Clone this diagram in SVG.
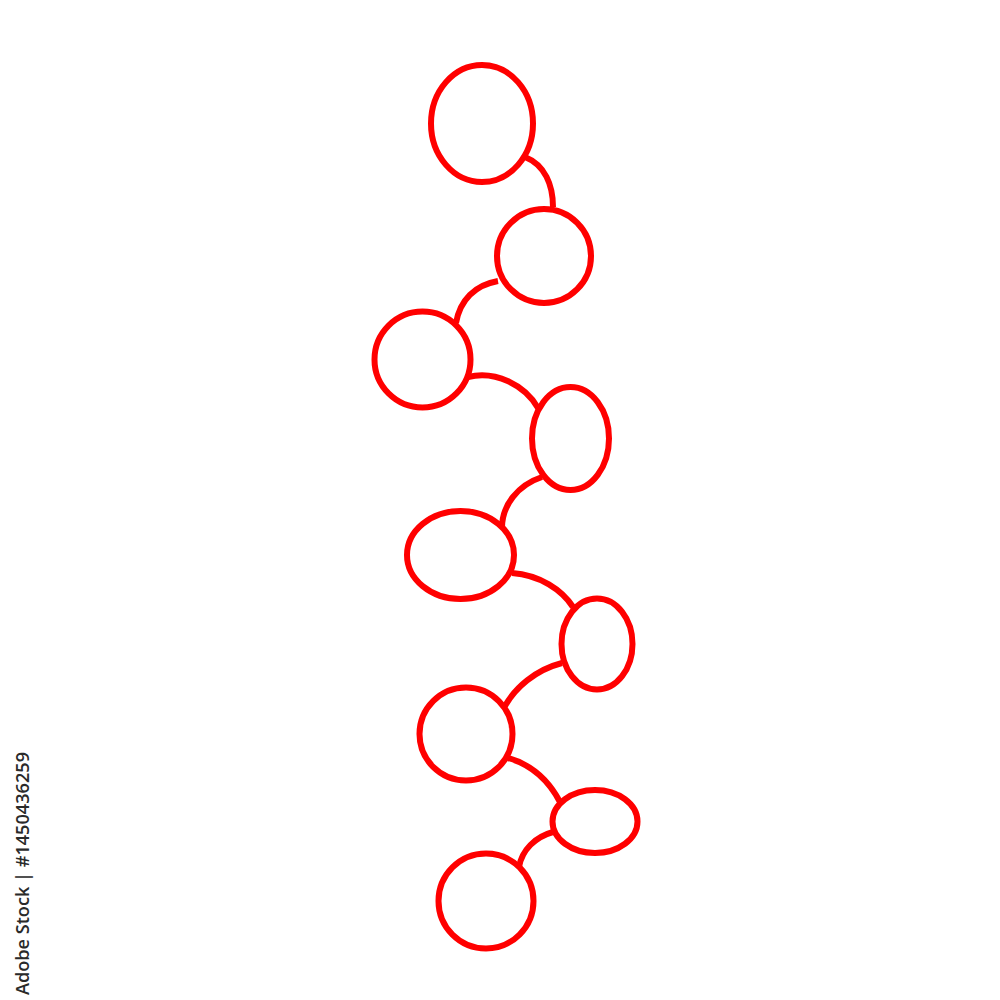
<svg xmlns="http://www.w3.org/2000/svg" width="1000" height="1000" viewBox="0 0 1000 1000">
<style>
.n{fill:none;stroke:#ff0000;stroke-width:6}
.c{fill:none;stroke:#ff0000;stroke-width:6;stroke-linecap:butt}
.wm{font-family:"Open Sans","Noto Sans",sans-serif;font-size:18.5px;font-weight:600;fill:#2a2a2a}
</style>
<rect width="1000" height="1000" fill="#ffffff"/>
<g id="connectors">
<path class="c" d="M525,157 C545,165 553,185 553,207"/>
<path class="c" d="M498,281 C475,285 460,300 456,323"/>
<path class="c" d="M468,377 C495,370 525,385 538,408"/>
<path class="c" d="M542,477 C518,485 502,505 502,528"/>
<path class="c" d="M512,573 C540,575 562,590 573,607"/>
<path class="c" d="M562,663 C535,670 515,688 505,706"/>
<path class="c" d="M508,758 C533,765 550,783 560,802"/>
<path class="c" d="M553,832 C535,837 522,850 519,867"/>
</g>
<g id="node1"><ellipse class="n" cx="482" cy="123.5" rx="51" ry="58.5"/></g>
<g id="node2"><ellipse class="n" cx="544" cy="256" rx="47" ry="47"/></g>
<g id="node3"><ellipse class="n" cx="422.5" cy="359.5" rx="48" ry="48"/></g>
<g id="node4"><ellipse class="n" cx="570.5" cy="438.5" rx="38.5" ry="51.5"/></g>
<g id="node5"><ellipse class="n" cx="460.5" cy="555" rx="53.5" ry="44"/></g>
<g id="node6"><ellipse class="n" cx="597" cy="644" rx="35.5" ry="45.5"/></g>
<g id="node7"><ellipse class="n" cx="466" cy="734" rx="46.5" ry="46.5"/></g>
<g id="node8"><ellipse class="n" cx="595" cy="821.5" rx="42.5" ry="31.5"/></g>
<g id="node9"><ellipse class="n" cx="486" cy="901" rx="47.5" ry="47.5"/></g>
<text class="wm" transform="translate(29,995) rotate(-90)" textLength="243" lengthAdjust="spacingAndGlyphs">Adobe Stock | #1450436259</text>
</svg>
